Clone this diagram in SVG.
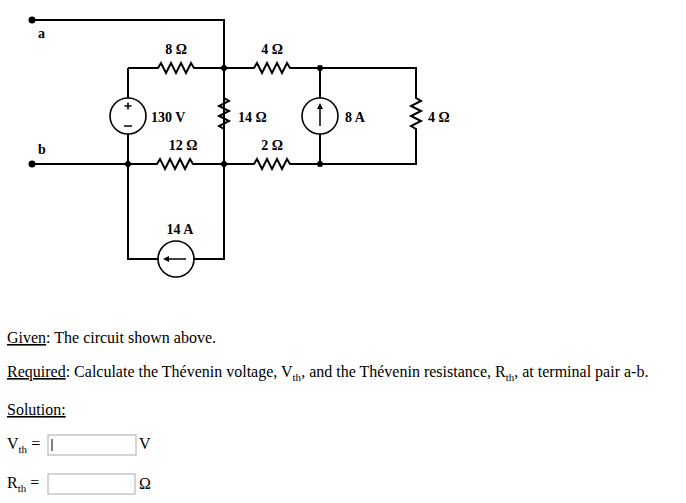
<svg xmlns="http://www.w3.org/2000/svg" width="686" height="503" viewBox="0 0 686 503">
<style>
.w{fill:none;stroke:#000;stroke-width:2}
.c{fill:#fff;stroke:#000;stroke-width:1.6}
.s{font-size:11px}
.box{fill:#fff;stroke:#aaa;stroke-width:1}
</style>
<rect width="686" height="503" fill="#fff"/>
<g id="wires">
<path class="w" d="M32 20H224V68M128 68H158l3 -5 5 10 5 -10 5 10 5 -10 5 10 5 -10 3 5H254l3 -5 5 10 5 -10 5 10 5 -10 5 10 5 -10 3 5H416V98l5 3 -10 5 10 5 -10 5 10 5 -10 5 5 3V164H290l-3 -5 -5 10 -5 -10 -5 10 -5 -10 -5 10 -5 -10 -3 5H193l-3 -5 -5 10 -5 -10 -5 10 -5 -10 -5 10 -5 -10 -3 5H32"/>
<path class="w" d="M128 68V164V259H224V68M224 98l5 3 -10 5 10 5 -10 5 10 5 -10 5 5 3M320 68V164"/>
<path class="w" d="M224 68V98M224 132V164"/>
</g>
<g id="nodes">
<circle cx="32" cy="20" r="3.5"/><circle cx="32" cy="164" r="3.5"/>
<circle cx="224" cy="68" r="3"/><circle cx="320" cy="68" r="3"/>
<circle cx="128" cy="164" r="3"/><circle cx="224" cy="164" r="3"/><circle cx="320" cy="164" r="3"/>
</g>
<g id="vs"><circle class="c" cx="128" cy="116" r="18"/><path d="M124.5 106h7M128 102.5v7M124 126h8" stroke="#000" stroke-width="1.5"/></g>
<g id="is8"><circle class="c" cx="320" cy="116" r="18"/><path d="M320 126V106" stroke="#000" stroke-width="1.5"/><path d="M320 103l-3 6h6z"/></g>
<g id="is14"><circle class="c" cx="176" cy="259" r="18"/><path d="M186 259H166" stroke="#000" stroke-width="1.5"/><path d="M163 259l6 -3v6z"/></g>
<g id="labels" font-family="Liberation Serif, DejaVu Serif, serif" font-weight="bold" font-size="14">
<text x="38" y="38">a</text><text x="38" y="154">b</text>
<text x="176" y="54" text-anchor="middle">8 Ω</text>
<text x="272" y="54" text-anchor="middle">4 Ω</text>
<text x="151" y="122">130 V</text>
<text x="238" y="122">14 Ω</text>
<text x="345" y="122">8 A</text>
<text x="428" y="122">4 Ω</text>
<text x="183" y="150" text-anchor="middle">12 Ω</text>
<text x="272" y="150" text-anchor="middle">2 Ω</text>
<text x="180" y="234" text-anchor="middle">14 A</text>
</g>
<g id="text" font-family="Liberation Serif, DejaVu Serif, serif" font-size="16">
<text x="7" y="343"><tspan text-decoration="underline">Given</tspan>: The circuit shown above.</text>
<text x="7" y="377"><tspan text-decoration="underline">Required</tspan>: Calculate the Thévenin voltage, V<tspan class="s" dy="4">th</tspan><tspan dy="-4">, and the Thévenin resistance, R</tspan><tspan class="s" dy="4">th</tspan><tspan dy="-4">, at terminal pair a-b.</tspan></text>
<text x="7" y="415" text-decoration="underline">Solution:</text>
<text x="7" y="449">V<tspan class="s" dy="4">th</tspan><tspan dy="-4"> =</tspan></text>
<rect class="box" x="48" y="435" width="88" height="20" stroke="#7a9cc6"/>
<path d="M52 439v12" stroke="#000"/>
<text x="139" y="449">V</text>
<text x="7" y="488">R<tspan class="s" dy="4">th</tspan><tspan dy="-4"> =</tspan></text>
<rect class="box" x="48" y="474" width="87" height="20"/>
<text x="139" y="489">Ω</text>
</g>
</svg>
